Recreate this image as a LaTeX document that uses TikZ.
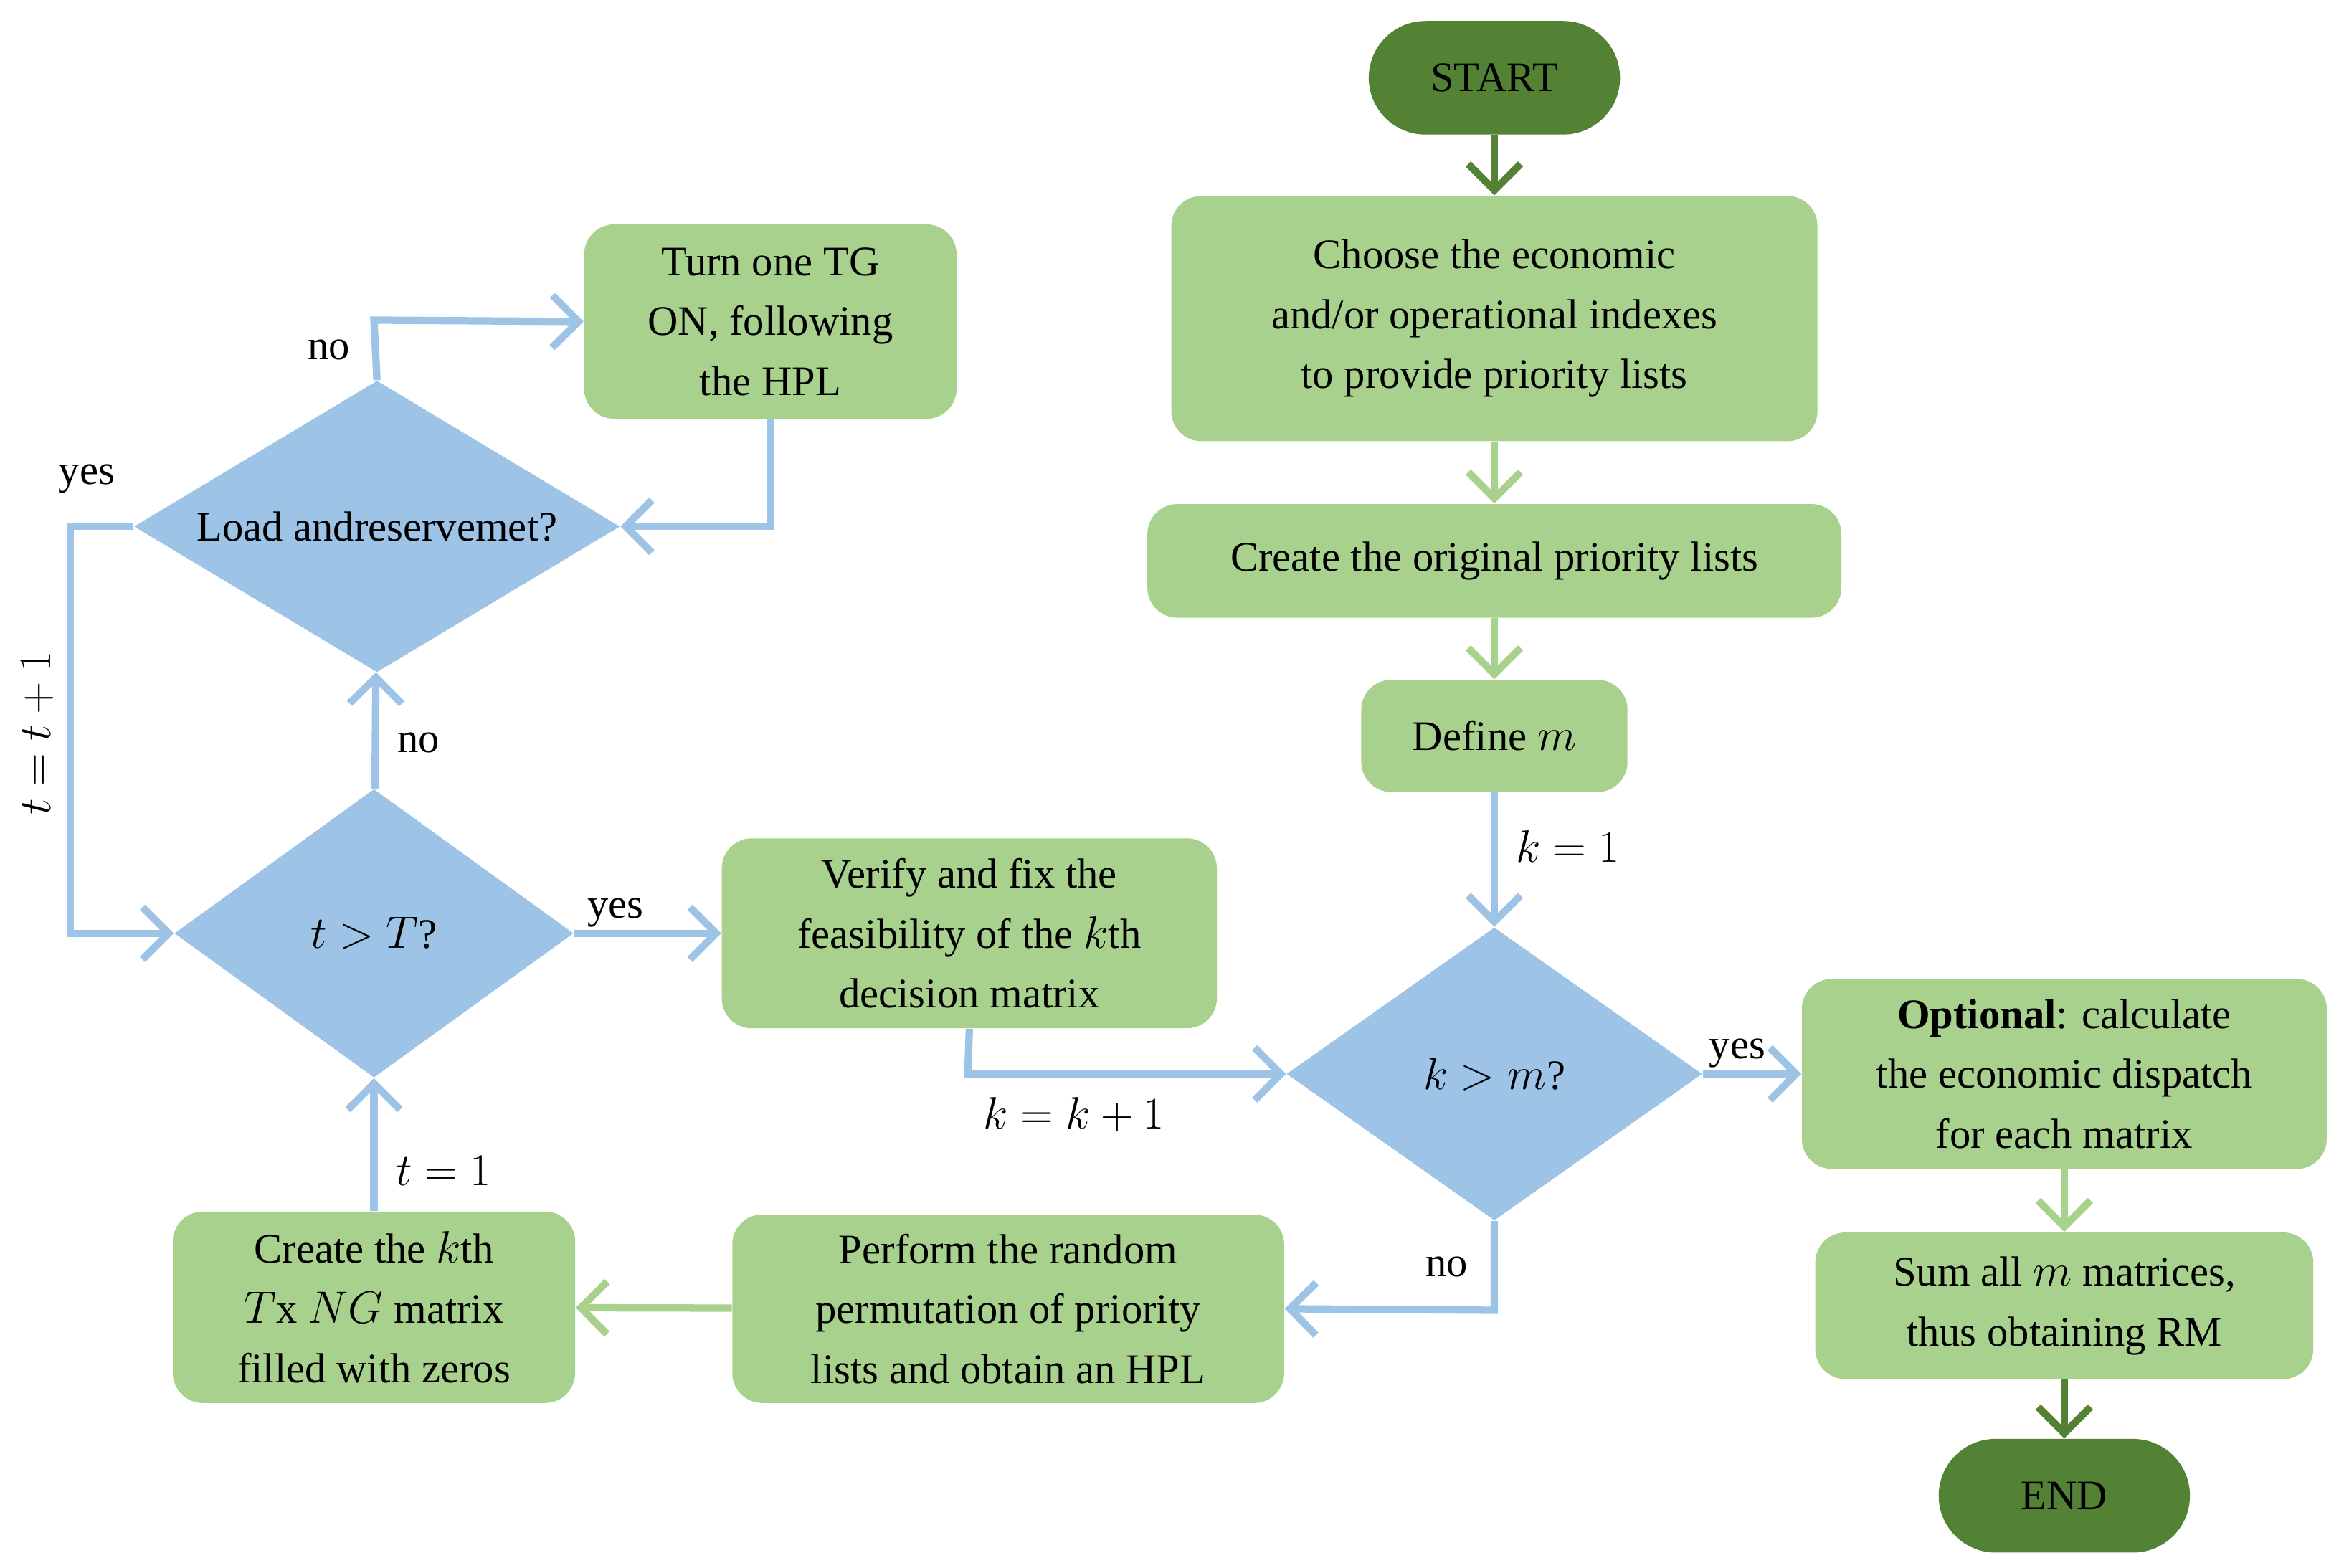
\documentclass[tikz,border=0pt]{standalone}
\usepackage{fontspec}
\setmainfont{Liberation Serif}
\usetikzlibrary{shapes.geometric,arrows.meta}
\definecolor{lgreen}{HTML}{A9D18E}
\definecolor{dgreen}{HTML}{548235}
\definecolor{lblue}{HTML}{9DC3E6}
\tikzset{
  box/.style={rectangle, rounded corners=0.4cm, fill=lgreen, draw=none, align=center, inner sep=0pt},
  term/.style={rectangle, rounded corners=0.76cm, fill=dgreen, draw=none, inner sep=0pt,
               minimum width=3.36cm, minimum height=1.52cm},
  dec/.style={diamond, fill=lblue, draw=none, inner sep=0pt, aspect=1.4},
  arr/.style={line width=2.8pt, -{Straight Barb[length=3.5mm,width=7mm,line width=2.8pt]}},
  ab/.style={arr, draw=lblue},
  ag/.style={arr, draw=lgreen},
  ad/.style={arr, draw=dgreen},
  lab/.style={inner sep=1pt}
}
\begin{document}
\begin{tikzpicture}[x=0.02cm,y=-0.02cm, font=\fontsize{16}{22.8}\selectfont]
\useasboundingbox (0,0) rectangle (1567,1048);
\node[term] (start) at (999,52) {START};
\node[box, minimum width=8.64cm, minimum height=3.28cm] (b1) at (999,213)
  {Choose the economic\\and/or operational indexes\\to provide priority lists};
\node[box, minimum width=9.28cm, minimum height=1.52cm] (b2) at (999,375) {Create the original priority lists};
\node[box, minimum width=3.56cm, minimum height=1.5cm] (b3) at (999,492) {Define $m$};
\node[dec, minimum width=5.56cm, minimum height=3.92cm] (dk) at (999,718) {$k>m$?};
\node[box, minimum width=7.02cm, minimum height=2.54cm] (opt) at (1380,718)
  {\textbf{Optional}: calculate\\the economic dispatch\\for each matrix};
\node[box, minimum width=6.66cm, minimum height=1.96cm] (sum) at (1380,873)
  {Sum all $m$ matrices,\\thus obtaining RM};
\node[term] (end) at (1380,1000) {END};
\node[box, minimum width=7.38cm, minimum height=2.52cm] (perf) at (674,875)
  {Perform the random\\permutation of priority\\lists and obtain an HPL};
\node[box, minimum width=5.38cm, minimum height=2.56cm] (cre) at (250,874)
  {Create the $k$th\\$T$x $NG$ matrix\\filled with zeros};
\node[dec, minimum width=5.34cm, minimum height=3.86cm] (dt) at (250,624) {$t>T$?};
\node[dec, minimum width=6.5cm, minimum height=3.9cm] (dl) at (252,352) {Load and\\reserve\\met?};
\node[box, minimum width=4.98cm, minimum height=2.6cm] (turn) at (515,215)
  {Turn one TG\\ON, following\\the HPL};
\node[box, minimum width=6.62cm, minimum height=2.54cm] (ver) at (648,624)
  {Verify and fix the\\feasibility of the $k$th\\decision matrix};
\coordinate (c1) at (999,876);
\coordinate (c2) at (250,214);
\coordinate (c3) at (515,352);
\coordinate (c4) at (47,352);
\coordinate (c5) at (47,624);
\coordinate (c6) at (647,718);

\draw[ad] (start) -- (b1);
\draw[ag] (b1) -- (b2);
\draw[ag] (b2) -- (b3);
\draw[ab] (b3) -- node[lab, right, pos=0.4, xshift=6pt] {$k=1$} (dk);
\draw[ab] (dk) -- node[lab, above, pos=0.35] {yes} (opt);
\draw[ag] (opt) -- (sum);
\draw[ad] (sum) -- (end);
\draw[ab] (dk.south) -- (c1) -- (perf.east);
\node[lab] at (967,847) {no};
\draw[ag] (perf) -- (cre);
\draw[ab] (cre) -- node[lab, right, pos=0.3, xshift=6pt] {$t=1$} (dt);
\draw[ab] (dt) -- node[lab, right, pos=0.4, xshift=6pt] {no} (dl);
\draw[ab] (dl.north) -- (c2) -- (turn.west);
\node[lab] at (220,234) {no};
\draw[ab] (turn.south) -- (c3) -- (dl.east);
\draw[ab] (dl.west) -- (c4) -- (c5) -- (dt.west);
\node[lab] at (58,320) {yes};
\node[lab, rotate=90] at (25,490) {$t=t+1$};
\draw[ab] (dt) -- node[lab, above, pos=0.28] {yes} (ver);
\draw[ab] (ver.south) -- (c6) -- (dk.west);
\node[lab] at (718,745) {$k=k+1$};
\end{tikzpicture}
\end{document}
